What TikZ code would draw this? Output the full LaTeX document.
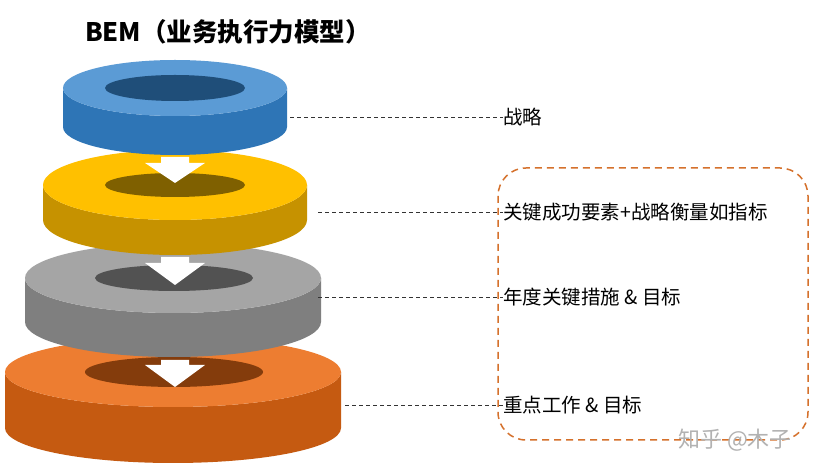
\documentclass[tikz,border=0pt]{standalone}
\usepackage{fontspec}
\setmainfont{Noto Sans CJK SC}
\begin{document}
\begin{tikzpicture}[x=1pt,y=1pt,
  lbl/.style={anchor=west,inner sep=0pt,font=\fontsize{19.5}{22}\selectfont},
  lead/.style={black!80,line width=0.9pt,dash pattern=on 4pt off 3pt},
  darr/.style={fill=white,draw=none}]
\useasboundingbox (0,0) rectangle (831,474);
\fill[white] (0,0) rectangle (831,474);
\newcommand\myring[9]{%
  \fill[#9] (#1-#3,#2) -- (#1-#3,#2-#5) arc (180:360:#3 and #4) -- (#1+#3,#2) arc (0:-180:#3 and #4) -- cycle;
  \fill[#8] (#1,#2) ellipse (#3 and #4);
}
\newcommand\myhole[5]{\fill[#5] (#1,#2) ellipse (#3 and #4);}
\definecolor{bT}{HTML}{5B9BD5}\definecolor{bS}{HTML}{2E75B6}\definecolor{bH}{HTML}{1F4E79}
\definecolor{yT}{HTML}{FFC000}\definecolor{yS}{HTML}{C69200}\definecolor{yH}{HTML}{7F6000}
\definecolor{gT}{HTML}{A5A5A5}\definecolor{gS}{HTML}{7F7F7F}\definecolor{gH}{HTML}{525252}
\definecolor{oT}{HTML}{ED7D31}\definecolor{oS}{HTML}{C55A11}\definecolor{oH}{HTML}{843C0C}
\myring{173}{102}{168}{35}{56}{}{}{oT}{oS}\myhole{174}{102}{89}{15}{oH}
\myring{173}{196}{148}{35}{44}{}{}{gT}{gS}\myhole{174}{196}{79}{13}{gH}
\myring{175}{289}{132}{35}{35}{}{}{yT}{yS}\myhole{175}{289}{70}{12}{yH}
\myring{175}{386}{112}{28}{39}{}{}{bT}{bS}\myhole{175}{386}{70}{13}{bH}
% arrows
\foreach \t/\m/\b in {317/311/291, 217/211/189, 114/109/87}{
  \fill[darr] (161,\t) -- (189,\t) -- (189,\m) -- (205,\m) -- (175,\b) -- (145,\m) -- (161,\m) -- cycle;}
% labels
\node[lbl] (l1) at (503,357) {战略};
\node[lbl] (l2) at (503,262) {关键成功要素+战略衡量如指标};
\node[lbl] (l3) at (503,177) {年度关键措施 \& 目标};
\node[lbl] (l4) at (503,69) {重点工作 \& 目标};
\coordinate (s1) at (290,357);
\coordinate (s2) at (318,262);
\coordinate (s3) at (318,177);
\coordinate (s4) at (345,69);
\foreach \i in {1,2,3,4}{\draw[lead] (s\i) -- (l\i.west);}
\draw[draw=oT!90!black,line width=1.5pt,rounded corners=28pt,dash pattern=on 7pt off 5pt] (498,306) rectangle (808,34);
\node[anchor=west,inner sep=0pt,font=\fontsize{25.5}{28}\selectfont\bfseries] (title) at (85,442) {BEM（业务执行力模型）};
\node[anchor=west,inner sep=0pt,text=black!30,font=\fontsize{22}{24}\selectfont] (wm) at (678,34) {知乎 @木子};
\end{tikzpicture}
\end{document}
